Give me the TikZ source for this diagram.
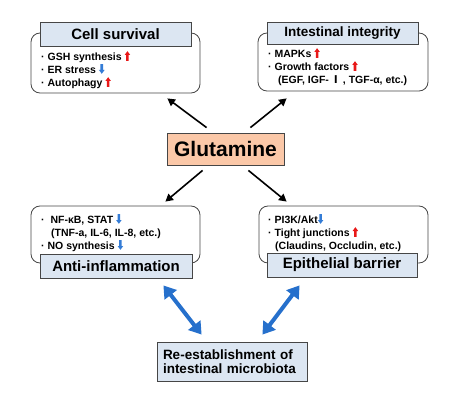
\documentclass[tikz,border=0pt]{standalone}
\usepackage{fontspec}
\setmainfont{Liberation Sans}
\newfontfamily\cjk{Noto Sans CJK JP}
\usetikzlibrary{arrows.meta}

\definecolor{titleblue}{RGB}{220,230,242}
\definecolor{glupeach}{RGB}{251,200,168}
\definecolor{linkblue}{RGB}{38,112,204}
\definecolor{edgegray}{RGB}{70,70,70}
\definecolor{upred}{RGB}{232,24,24}
\definecolor{downblue}{RGB}{52,124,214}

\newcommand{\upArr}{\tikz[baseline=0pt,x=1pt,y=1pt]\fill[upred] (-1.3,0) -- (-1.3,5.8) -- (-2.8,5.8) -- (0,9.6) -- (2.8,5.8) -- (1.3,5.8) -- (1.3,0) -- cycle;}
\newcommand{\downArr}{\tikz[baseline=0pt,x=1pt,y=1pt]\fill[downblue] (-1.3,9.6) -- (-1.3,3.8) -- (-2.8,3.8) -- (0,0) -- (2.8,3.8) -- (1.3,3.8) -- (1.3,9.6) -- cycle;}

\begin{document}
\begin{tikzpicture}[x=1pt, y=-1pt,
		bodybox/.style = {draw=edgegray, line width=0.8pt, rounded corners=9pt, fill=white},
		titlebox/.style = {draw=edgegray, line width=0.8pt, fill=titleblue, font=\bfseries\fontsize{15}{17}\selectfont},
		itemtext/.style = {anchor=north west, inner sep=0pt, align=left, font=\bfseries\fontsize{10.5}{13}\selectfont},
		toarrow/.style = {line width=1.6pt, -{Triangle[length=7.5pt,width=8pt]}},
		linkarrow/.style = {linkblue, line width=4pt, {Triangle[length=12pt,width=15pt]}-{Triangle[length=12pt,width=15pt]}}]
			\useasboundingbox (0,0) rectangle (474,401);

			% Glutamine
			\node [draw=edgegray, line width=0.8pt, fill=glupeach, minimum width=117pt, minimum height=32pt, font=\bfseries\fontsize{21}{24}\selectfont] (glut) at (225.5,149) {Glutamine};

			% Cell survival
			\node [bodybox, minimum width=169pt, minimum height=60pt] (surv) at (115.5,63) {};
			\node [titlebox, minimum width=151pt, minimum height=24pt] (survT) at (115.5,34) {Cell survival};
			\node [itemtext] (survL) at (41,51) {· GSH synthesis \upArr\\ · ER stress \downArr\\ · Autophagy \upArr};

			% Intestinal integrity
			\node [bodybox, minimum width=170pt, minimum height=58pt] (integ) at (343,62) {};
			\node [titlebox, minimum width=151pt, minimum height=22pt, font=\bfseries\fontsize{13.5}{16}\selectfont] (integT) at (342.5,33) {Intestinal integrity};
			\node [itemtext] (integL) at (268,48) {· MAPKs \upArr\\ · Growth factors \upArr\\ \hspace*{10pt}(EGF, IGF-\,{\cjk Ⅰ}\,, TGF-α, etc.)};

			% Anti-inflammation
			\node [bodybox, minimum width=169pt, minimum height=57pt] (anti) at (115.5,234.5) {};
			\node [titlebox, minimum width=152pt, minimum height=24pt] (antiT) at (116,266) {Anti-inflammation};
			\node [itemtext] (antiL) at (41,214) {·\ \ NF-κB, STAT \downArr\\ \hspace*{10pt}(TNF-a, IL-6, IL-8, etc.)\\ · NO synthesis \downArr};

			% Epithelial barrier
			\node [bodybox, minimum width=169pt, minimum height=57pt] (epi) at (343.5,234.5) {};
			\node [titlebox, minimum width=150pt, minimum height=24pt] (epiT) at (342,265) {Epithelial barrier};
			\node [itemtext] (epiL) at (268,214) {· PI3K/Akt\downArr\\ · Tight junctions \upArr\\ \hspace*{7pt}(Claudins, Occludin, etc.)};

			% microbiota
			\node [draw=edgegray, line width=0.8pt, fill=titleblue, minimum height=39pt, text width=138pt, inner xsep=6pt, align=left, font=\bfseries\fontsize{13.5}{14}\selectfont] (micro) at (232,361.5) {Re-establishment of\\ intestinal microbiota};

			\begin{scope}[toarrow]
				\draw ([xshift=40pt,yshift=5pt]glut.north west) -- ([xshift=-33pt,yshift=-5pt]surv.south east);
				\draw ([xshift=-34pt,yshift=5pt]glut.north east) -- ([xshift=29pt,yshift=-7pt]integ.south west);
				\draw ([xshift=36pt,yshift=-5pt]glut.south west) -- ([xshift=-35pt,yshift=4pt]anti.north east);
				\draw ([xshift=-36pt,yshift=-5pt]glut.south east) -- ([xshift=28pt,yshift=4pt]epi.north west);
			\end{scope}

			\begin{scope}[linkarrow]
				\draw ([xshift=-29pt,yshift=-7pt]antiT.south east) -- ([xshift=45pt,yshift=7pt]micro.north west);
				\draw ([xshift=33pt,yshift=-8pt]epiT.south west) -- ([xshift=-45pt,yshift=7pt]micro.north east);
			\end{scope}
		\end{tikzpicture}
\end{document}
